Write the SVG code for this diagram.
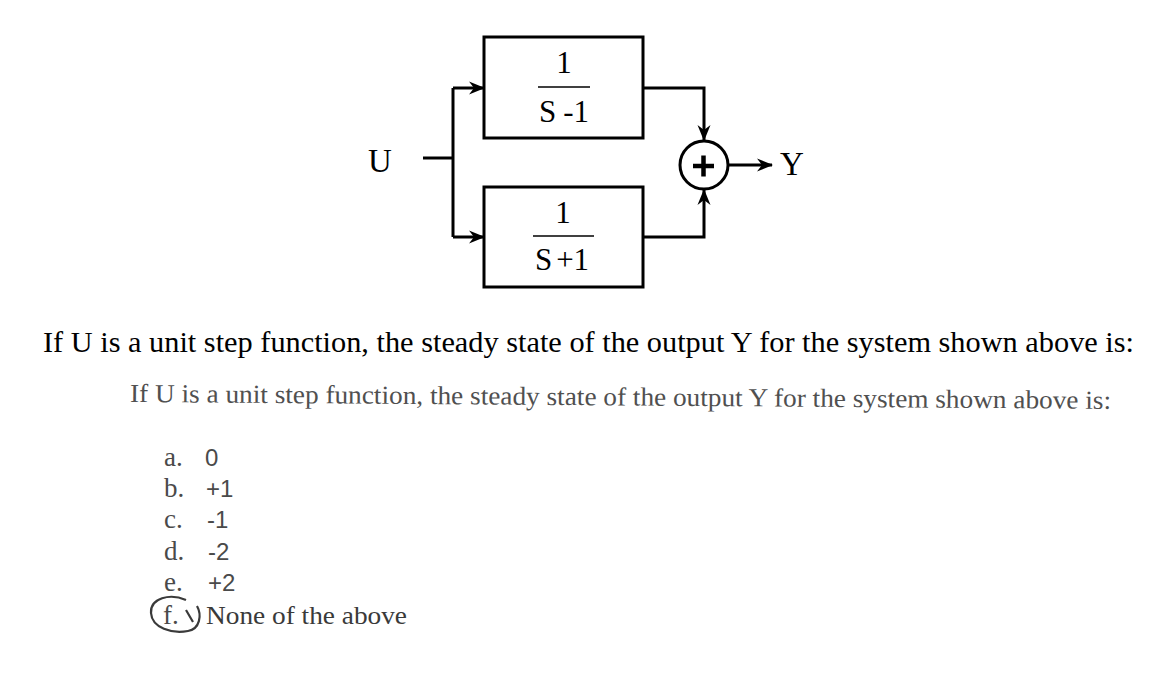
<svg xmlns="http://www.w3.org/2000/svg" width="1155" height="684" viewBox="0 0 1155 684">
<defs>
<style>
.ln{fill:none;stroke:#000;stroke-width:3}
.box{fill:#fff;stroke:#000;stroke-width:3}
.ser{font-family:"Liberation Serif","Times New Roman",serif;fill:#000}
.frac{font-size:31px}
.big{font-size:33px}
.opt{font-family:"Liberation Serif",serif;font-size:27px;fill:#4a4a4a}
.num{font-family:"Liberation Sans",Arial,sans-serif;font-size:24px;fill:#4a4a4a}
</style>
<marker id="ah" viewBox="0 0 16 14" refX="15" refY="7" markerWidth="16" markerHeight="14" markerUnits="userSpaceOnUse" orient="auto">
<path d="M0,0.5 L16,7 L0,13.5 L5,7 Z" fill="#000"/>
</marker>
</defs>
<rect width="1155" height="684" fill="#fff"/>

<g id="connectors">
<path class="ln" d="M423,158 H453"/>
<path class="ln" d="M453,88 V237"/>
<path class="ln" d="M453,88 H484" marker-end="url(#ah)"/>
<path class="ln" d="M453,237 H484" marker-end="url(#ah)"/>
<path class="ln" d="M643,88 H704 V140" marker-end="url(#ah)"/>
<path class="ln" d="M643,237 H704 V190" marker-end="url(#ah)"/>
<path class="ln" d="M729,165 H772" marker-end="url(#ah)"/>
</g>

<g id="input">
<text class="ser big" x="368" y="172">U</text>
</g>

<g id="block1">
<rect class="box" x="484" y="37" width="159" height="101"/>
<text class="ser frac" x="564" y="73" text-anchor="middle">1</text>
<line x1="538" y1="87" x2="590" y2="87" stroke="#000" stroke-width="1.5"/>
<text class="ser frac" x="564" y="122" text-anchor="middle">S<tspan font-size="28"> </tspan>-1</text>
</g>

<g id="block2">
<rect class="box" x="484" y="187" width="159" height="100"/>
<text class="ser frac" x="563" y="223" text-anchor="middle">1</text>
<line x1="533" y1="236" x2="594" y2="236" stroke="#000" stroke-width="1.5"/>
<text class="ser frac" x="562" y="270" text-anchor="middle">S<tspan dx="4">+</tspan>1</text>
</g>

<g id="sum">
<circle cx="704" cy="165" r="24" fill="#fff" stroke="#000" stroke-width="3"/>
<path d="M693,166 H714 M703.5,155.5 V176.5" stroke="#000" stroke-width="4.5" fill="none"/>
</g>

<g id="output">
<text class="ser big" x="780" y="175">Y</text>
</g>

<text class="ser" x="43" y="352" font-size="30" textLength="1091" lengthAdjust="spacingAndGlyphs">If U is a unit step function, the steady state of the output Y for the system shown above is:</text>
<text x="130" y="402" font-family="Liberation Serif,serif" font-size="26" fill="#505050" textLength="981" lengthAdjust="spacingAndGlyphs" transform="rotate(0.4 130 402)">If U is a unit step function, the steady state of the output Y for the system shown above is:</text>

<g id="options">
<text class="opt" x="164" y="466">a.</text><text class="num" x="205" y="466">0</text>
<text class="opt" x="164" y="497">b.</text><text class="num" x="206" y="497">+1</text>
<text class="opt" x="164" y="528">c.</text><text class="num" x="207" y="528">-1</text>
<text class="opt" x="164" y="560">d.</text><text class="num" x="208" y="560">-2</text>
<text class="opt" x="164" y="591">e.</text><text class="num" x="208" y="591">+2</text>
<text class="opt" x="163" y="624">f.</text>
<path d="M186,600 C170,593 150,598 151,613 C152,628 172,634 188,631 C200,629 202,615 197,606 M186,610 L193,622" fill="none" stroke="#3a3a3a" stroke-width="2.2"/>
<text x="206" y="624" font-family="Liberation Serif,serif" font-size="26" fill="#3a3a3a" textLength="201" lengthAdjust="spacingAndGlyphs">None of the above</text>
</g>
</svg>
